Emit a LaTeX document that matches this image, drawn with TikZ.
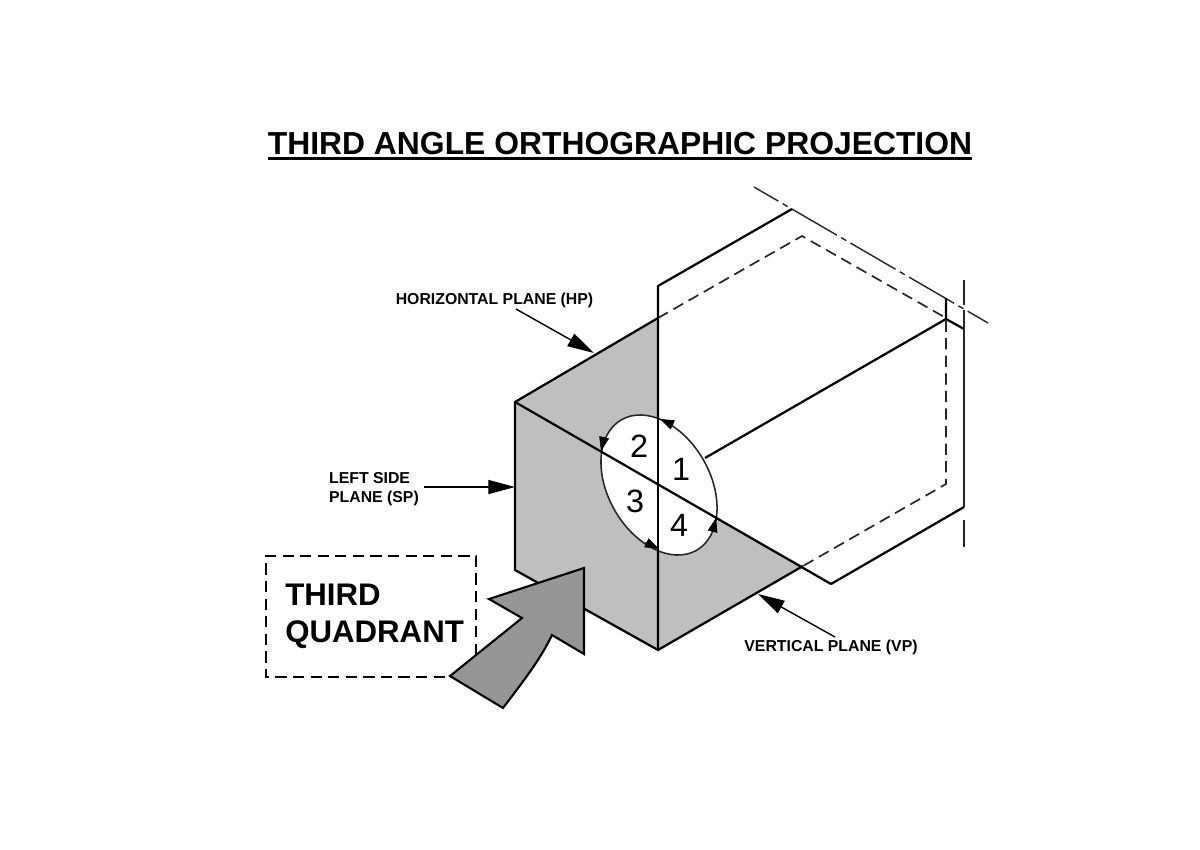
\documentclass[tikz,border=0pt]{standalone}
\usepackage{fontspec}
\setmainfont{Liberation Sans}
\usetikzlibrary{arrows.meta}
\tikzset{
  edgeline/.style={line width=1.6pt},
  hiddenline/.style={line width=1.2pt, dash pattern=on 8pt off 4.5pt, black!85},
  centreline/.style={line width=1pt, black!85},
  leader/.style={line width=1pt, -{Stealth[length=19pt, width=10pt, inset=0pt]}},
  ringtip/.style={line width=0.4pt, -{Stealth[length=10pt, width=7pt, inset=0pt]}},
  planelabel/.style={font=\fontsize{11.25}{13.5}\selectfont\bfseries, align=left, inner sep=0pt},
  quadnum/.style={font=\fontsize{23}{24}\selectfont, inner sep=0pt},
}
\begin{document}
\begin{tikzpicture}[x=0.025cm, y=-0.025cm]
  \useasboundingbox (0,0) rectangle (1200,849);
  % Shaded faces
  \fill[black!25] (515,402) -- (658,318) -- (658,486) -- cycle;
  \fill[black!25] (515,402) -- (658,486) -- (803,566) -- (658,650) -- (515,570) -- cycle;
  % Hidden outline of the planes
  \draw[hiddenline] (658,318) -- (802,236) -- (946,318) -- (946,484) -- (803,566);
  % Centre lines
  \draw[centreline, dash pattern=on 37pt off 3.5pt on 4.2pt off 3.5pt, dash phase=17pt]
    (754,187) -- (988,323);
  \draw[centreline] (964,280) -- (964,305);
  \draw[centreline] (964,310) -- (964,507);
  \draw[centreline] (964,520) -- (964,547);
  % Solid edges
  \draw[edgeline] (658,318) -- (515,402) -- (515,570) -- (658,650) -- (803,566);
  \draw[edgeline] (658,650) -- (658,286) -- (792,209);
  \draw[edgeline] (946,298) -- (946,319) -- (964,329);
  \draw[edgeline] (946,319) -- (705,458);
  \draw[edgeline] (831,584) -- (964,507);
  % Quadrant ring
  \draw[line width=1.1pt, black!85, fill=white, rotate around={-60:(659,485)}]
    (659,485) ellipse [x radius=75.3, y radius=51];
  \draw[edgeline] (515,402) -- (831,584);
  \draw[edgeline] (658,400) -- (658,570);
  \draw[ringtip] (673,425) -- (660,419);
  \draw[ringtip] (604,438) -- (601,451);
  \draw[ringtip] (645,542) -- (659,549);
  \draw[ringtip] (713,530) -- (716,518);
  \node[quadnum] (num1) at (681,469) {1};
  \node[quadnum] (num2) at (639,446) {2};
  \node[quadnum] (num3) at (635,501) {3};
  \node[quadnum] (num4) at (679,525) {4};
  % Title
  \node[font=\fontsize{22.65}{28}\selectfont\bfseries, inner sep=0pt, text depth=0pt, anchor=south]
    (title) at (620,155) {THIRD ANGLE ORTHOGRAPHIC PROJECTION};
  \draw[line width=2pt] ([yshift=-2.2pt]title.south west) -- ([yshift=-2.2pt]title.south east);
  % Plane labels
  \node[planelabel] (hplabel) at (494.5,300) {HORIZONTAL PLANE (HP)};
  \node[planelabel] (splabel) at (374,489) {LEFT SIDE\\PLANE (SP)};
  \node[planelabel] (vplabel) at (831,647) {VERTICAL PLANE (VP)};
  \coordinate (hptail) at (516,309);
  \coordinate (hptip) at (594,353);
  \coordinate (sptail) at (424,487);
  \coordinate (sptip) at (515,487);
  \coordinate (vptail) at (835,637);
  \coordinate (vptip) at (758,594);
  \draw[leader] (hptail) -- (hptip);
  \draw[leader] (sptail) -- (sptip);
  \draw[leader] (vptail) -- (vptip);
  % Third quadrant box and arrow
  \draw[hiddenline, black] (476,655) -- (476,556) -- (266,556) -- (266,677) -- (450,677);
  \node[font=\fontsize{22.2}{26.2}\selectfont\bfseries, align=left, inner sep=0pt, anchor=west]
    (quadlabel) at (285,616.5) {THIRD\\QUADRANT};
  \draw[line width=1.5pt, fill=black!41, line join=miter]
    (584,568) -- (489,599) -- (522,618) -- (450,676) -- (503,708)
    .. controls (522,683) and (540,660) .. (552,635) -- (584,654) -- cycle;
\end{tikzpicture}
\end{document}
